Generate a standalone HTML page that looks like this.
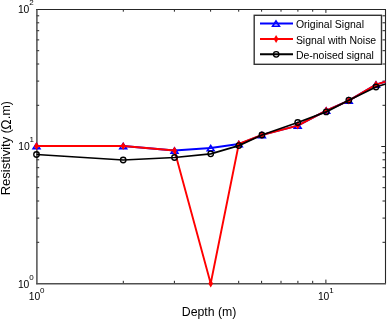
<!DOCTYPE html>
<html><head><meta charset="utf-8"><title>Resistivity vs Depth</title>
<style>html,body{margin:0;padding:0;background:#fff;}body{width:387px;height:320px;position:relative;overflow:hidden;}</style></head>
<body>
<svg width="387" height="320" viewBox="0 0 387 320" style="position:absolute;left:0;top:0;font-family:'Liberation Sans',sans-serif;">
<rect width="387" height="320" fill="#fff"/>
<path d="M123.3,283.5v-2.7M123.3,9.5v2.2M174.4,283.5v-2.7M174.4,9.5v2.2M210.6,283.5v-2.7M210.6,9.5v2.2M238.7,283.5v-2.7M238.7,9.5v2.2M261.6,283.5v-2.7M261.6,9.5v2.2M281.0,283.5v-2.7M281.0,9.5v2.2M297.9,283.5v-2.7M297.9,9.5v2.2M312.7,283.5v-2.7M312.7,9.5v2.2M325.9,283.5v-3.9000000000000004M325.9,9.5v3.4000000000000004M36.5,242.3h2.7M385.5,242.3h-3.0M36.5,218.1h2.7M385.5,218.1h-3.0M36.5,201.0h2.7M385.5,201.0h-3.0M36.5,187.7h2.7M385.5,187.7h-3.0M36.5,176.9h2.7M385.5,176.9h-3.0M36.5,167.7h2.7M385.5,167.7h-3.0M36.5,159.8h2.7M385.5,159.8h-3.0M36.5,152.8h2.7M385.5,152.8h-3.0M36.5,146.5h3.9000000000000004M385.5,146.5h-4.2M36.5,105.3h2.7M385.5,105.3h-3.0M36.5,81.1h2.7M385.5,81.1h-3.0M36.5,64.0h2.7M385.5,64.0h-3.0M36.5,50.7h2.7M385.5,50.7h-3.0M36.5,39.9h2.7M385.5,39.9h-3.0M36.5,30.7h2.7M385.5,30.7h-3.0M36.5,22.8h2.7M385.5,22.8h-3.0M36.5,15.8h2.7M385.5,15.8h-3.0" stroke="#222" stroke-width="1" fill="none"/>
<path d="M36.0,9.5H386.0M385.5,9.5V284.0" fill="none" stroke="#262626" stroke-width="1.1"/>
<path d="M36.9,9.0V284.3" fill="none" stroke="#444" stroke-width="1.4"/>
<path d="M36.2,283.7H386.0" fill="none" stroke="#505050" stroke-width="1.5"/>
<polyline points="36.5,146.0 123.2,146.0 174.5,150.5 210.7,148.0 238.8,144.0 261.9,135.0 297.7,125.6 326.2,110.6 348.8,100.6 376.0,84.6 385.5,81.6" fill="none" stroke="#00f" stroke-width="1.8" stroke-linejoin="round"/>
<polygon points="36.5,143.4 33.1,148.7 39.9,148.7" fill="none" stroke="#00f" stroke-width="1.6"/>
<polygon points="123.2,143.4 119.8,148.7 126.6,148.7" fill="none" stroke="#00f" stroke-width="1.6"/>
<polygon points="174.5,147.9 171.1,153.2 177.9,153.2" fill="none" stroke="#00f" stroke-width="1.6"/>
<polygon points="210.7,145.4 207.3,150.7 214.1,150.7" fill="none" stroke="#00f" stroke-width="1.6"/>
<polygon points="238.8,141.4 235.4,146.7 242.2,146.7" fill="none" stroke="#00f" stroke-width="1.6"/>
<polygon points="261.9,132.4 258.5,137.7 265.3,137.7" fill="none" stroke="#00f" stroke-width="1.6"/>
<polygon points="297.7,123.0 294.3,128.3 301.1,128.3" fill="none" stroke="#00f" stroke-width="1.6"/>
<polygon points="326.2,108.0 322.8,113.3 329.6,113.3" fill="none" stroke="#00f" stroke-width="1.6"/>
<polygon points="348.8,98.0 345.4,103.3 352.2,103.3" fill="none" stroke="#00f" stroke-width="1.6"/>
<polygon points="376.0,82.0 372.6,87.3 379.4,87.3" fill="none" stroke="#00f" stroke-width="1.6"/>
<polyline points="36.5,146.0 123.2,146.0 174.5,150.5 210.7,283.5 238.8,144.0 261.9,135.0 297.7,125.6 326.2,110.6 348.8,100.6 376.0,84.6 385.5,81.6" fill="none" stroke="#f00" stroke-width="1.9" stroke-linejoin="round"/>
<polygon points="36.5,142.0 38.9,146.0 36.5,150.0 34.1,146.0" fill="#f00"/>
<polygon points="123.2,142.0 125.6,146.0 123.2,150.0 120.8,146.0" fill="#f00"/>
<polygon points="174.5,146.5 176.9,150.5 174.5,154.5 172.1,150.5" fill="#f00"/>
<polygon points="210.7,279.5 213.1,283.5 210.7,287.5 208.3,283.5" fill="#f00"/>
<polygon points="238.8,140.0 241.2,144.0 238.8,148.0 236.4,144.0" fill="#f00"/>
<polygon points="261.9,131.0 264.3,135.0 261.9,139.0 259.5,135.0" fill="#f00"/>
<polygon points="297.7,121.6 300.1,125.6 297.7,129.6 295.3,125.6" fill="#f00"/>
<polygon points="326.2,106.6 328.6,110.6 326.2,114.6 323.8,110.6" fill="#f00"/>
<polygon points="348.8,96.6 351.2,100.6 348.8,104.6 346.4,100.6" fill="#f00"/>
<polygon points="376.0,80.6 378.4,84.6 376.0,88.6 373.6,84.6" fill="#f00"/>
<polyline points="36.5,154.5 123.2,160.0 174.5,157.5 210.7,153.8 238.8,145.6 261.9,135.0 297.7,122.5 326.2,111.9 348.8,100.2 376.0,87.0 385.5,84.0" fill="none" stroke="#000" stroke-width="1.75" stroke-linejoin="round"/>
<circle cx="36.5" cy="154.5" r="2.75" fill="none" stroke="#000" stroke-width="1.3"/>
<circle cx="123.2" cy="160.0" r="2.75" fill="none" stroke="#000" stroke-width="1.3"/>
<circle cx="174.5" cy="157.5" r="2.75" fill="none" stroke="#000" stroke-width="1.3"/>
<circle cx="210.7" cy="153.8" r="2.75" fill="none" stroke="#000" stroke-width="1.3"/>
<circle cx="238.8" cy="145.6" r="2.75" fill="none" stroke="#000" stroke-width="1.3"/>
<circle cx="261.9" cy="135.0" r="2.75" fill="none" stroke="#000" stroke-width="1.3"/>
<circle cx="297.7" cy="122.5" r="2.75" fill="none" stroke="#000" stroke-width="1.3"/>
<circle cx="326.2" cy="111.9" r="2.75" fill="none" stroke="#000" stroke-width="1.3"/>
<circle cx="348.8" cy="100.2" r="2.75" fill="none" stroke="#000" stroke-width="1.3"/>
<circle cx="376.0" cy="87.0" r="2.75" fill="none" stroke="#000" stroke-width="1.3"/>
<rect x="254.2" y="15.3" width="127.30000000000001" height="49.0" fill="#fff" stroke="#333" stroke-width="1.4"/>
<line x1="260" x2="293" y1="23.6" y2="23.6" stroke="#00f" stroke-width="2"/>
<polygon points="276.0,20.9 272.6,26.2 279.4,26.2" fill="none" stroke="#00f" stroke-width="1.6"/>
<text x="295.9" y="28.2" font-size="10.48px" fill="#000">Original Signal</text>
<line x1="260" x2="293" y1="39" y2="39" stroke="#f00" stroke-width="2"/>
<polygon points="276.1,35.0 278.5,39.0 276.1,43.0 273.7,39.0" fill="#f00"/>
<text x="295.9" y="43.6" font-size="10.48px" fill="#000">Signal with Noise</text>
<line x1="260" x2="293" y1="54.3" y2="54.3" stroke="#000" stroke-width="2"/>
<circle cx="276.2" cy="54.3" r="2.75" fill="none" stroke="#000" stroke-width="1.3"/>
<text x="295.9" y="58.9" font-size="10.48px" fill="#000">De-noised signal</text>
<text x="17.9" y="13.2" font-size="10.3px" fill="#000">10</text><text x="29.15" y="5.30" font-size="8px" fill="#000">2</text>
<text x="18.2" y="150.2" font-size="10.3px" fill="#000">10</text><text x="29.45" y="142.30" font-size="8px" fill="#000">1</text>
<text x="17.9" y="287.7" font-size="10.3px" fill="#000">10</text><text x="29.15" y="279.80" font-size="8px" fill="#000">0</text>
<text x="28.75" y="300.3" font-size="10.3px" fill="#000">10</text><text x="40.00" y="292.90" font-size="8px" fill="#000">0</text>
<text x="317.9" y="300.3" font-size="10.3px" fill="#000">10</text><text x="329.15" y="292.90" font-size="8px" fill="#000">1</text>
<text x="209.1" y="316.3" font-size="12.3px" text-anchor="middle" fill="#000">Depth (m)</text>
<text transform="translate(9.5,195.3) rotate(-90)" font-size="13px" text-anchor="start" fill="#000">Resistivity <tspan font-size="12.4px">(</tspan><tspan font-size="13.8px" dx="-0.6" dy="1.5">Ω</tspan><tspan font-size="12.4px" dx="0.3" dy="-1.5">.m)</tspan></text>
</svg>
</body></html>
